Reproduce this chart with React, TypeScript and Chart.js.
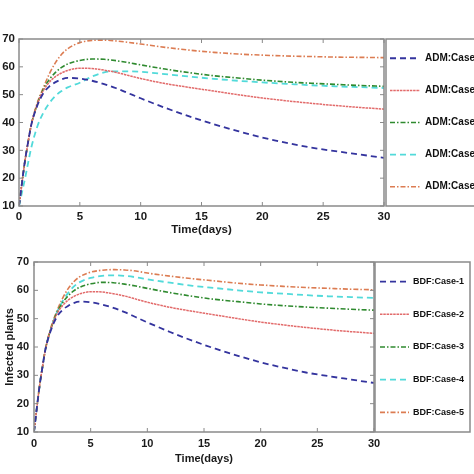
import React, { useEffect, useRef } from "react";
import { Chart, registerables } from "chart.js";

Chart.register(...registerables);

// Sample times (days)
const TIME = [0, 0.25, 0.5, 0.75, 1, 1.5, 2, 2.5, 3, 3.5, 4, 5, 6, 7, 8, 9, 10, 12, 14, 16, 18, 20, 22, 24, 26, 28, 30];

// Infected plants for each case
const CASE1 = [10, 18.5, 26.5, 33, 39, 46, 50.5, 53, 54.5, 55.5, 56, 55.8, 55, 53.8, 52.3, 50.5, 48.7, 45.3, 42.2, 39.4, 36.9, 34.6, 32.7, 31.0, 29.7, 28.5, 27.3];
const CASE2 = [10, 18.5, 26.5, 33, 39, 46.5, 51.5, 54.5, 56.5, 57.8, 58.7, 59.5, 59.4, 58.8, 58.0, 56.9, 55.8, 54.0, 52.6, 51.3, 50.0, 48.8, 47.8, 46.9, 46.1, 45.4, 44.8];
const CASE3 = [10, 18.5, 26.5, 33, 39, 46.5, 52, 55.5, 58, 59.8, 61, 62.3, 62.8, 62.7, 62.2, 61.5, 60.7, 59.2, 57.9, 56.8, 56.0, 55.2, 54.6, 54.1, 53.7, 53.3, 53.0];
const ADM_CASE4 = [10, 15, 20, 25.5, 30.8, 38.5, 43.5, 47, 49.6, 51.3, 52.6, 54.3, 56.5, 58.0, 58.4, 58.4, 58.2, 57.4, 56.5, 55.7, 55.0, 54.4, 53.9, 53.4, 53.0, 52.7, 52.4];
const ADM_CASE5 = [10, 18.5, 26.5, 33, 39, 47, 52.5, 57.5, 61.5, 64.5, 66.5, 68.7, 69.5, 69.6, 69.3, 68.8, 68.2, 67.0, 66.0, 65.2, 64.6, 64.2, 63.9, 63.7, 63.5, 63.4, 63.3];
const BDF_CASE4 = [10, 18.5, 26.5, 33, 39, 46.5, 52, 56, 59, 61.3, 62.8, 64.4, 65.1, 65.3, 65.1, 64.6, 63.9, 62.7, 61.6, 60.8, 60.0, 59.3, 58.8, 58.3, 57.9, 57.6, 57.3];
const BDF_CASE5 = [10, 18.5, 26.5, 33, 39, 47, 52.5, 57, 60.5, 63, 64.7, 66.4, 67.1, 67.3, 67.2, 66.8, 66.1, 65.0, 64.1, 63.3, 62.5, 61.9, 61.4, 61.0, 60.7, 60.4, 60.2];

const CASE_LABELS = ["Case-1", "Case-2", "Case-3", "Case-4", "Case-5"];
const X_TICKS = { min: 0, max: 30, step: 5 };
const Y_TICKS = { min: 10, max: 70, step: 10 };

const FONT = "'Liberation Sans', Arial, sans-serif";
const FRAME = "#8a8a8a";

const STYLES = [
  { color: "#34349e", dash: [6, 4], width: 1.8 },
  { color: "#e26a6a", dash: [2.5, 0.8], width: 1.5 },
  { color: "#2f8a2f", dash: [5, 2, 1.5, 2], width: 1.6 },
  { color: "#52dada", dash: [6, 4], width: 1.8 },
  { color: "#dc7c52", dash: [5, 2, 1.5, 2], width: 1.6 },
];

// Axes box with inward ticks, plus a boxed legend to the right of the plot
const framePlugin = {
  id: "frame",
  afterDraw(chart: any, _args: any, opts: any) {
    const { ctx, chartArea: a, scales } = chart;
    ctx.save();
    ctx.strokeStyle = FRAME;
    ctx.lineWidth = 1.5;
    ctx.setLineDash([]);
    ctx.strokeRect(a.left, a.top, a.right - a.left, a.bottom - a.top);
    ctx.beginPath();
    ctx.lineWidth = 1;
    scales.x.ticks.forEach((t: any) => {
      const px = scales.x.getPixelForValue(t.value);
      ctx.moveTo(px, a.bottom);
      ctx.lineTo(px, a.bottom - 4);
      ctx.moveTo(px, a.top);
      ctx.lineTo(px, a.top + 4);
    });
    scales.y.ticks.forEach((t: any) => {
      const py = scales.y.getPixelForValue(t.value);
      ctx.moveTo(a.left, py);
      ctx.lineTo(a.left + 4, py);
      ctx.moveTo(a.right, py);
      ctx.lineTo(a.right - 4, py);
    });
    ctx.stroke();

    // legend box
    const boxL = a.right + opts.gap;
    const boxT = a.top;
    const boxH = a.bottom - a.top;
    ctx.lineWidth = 1.5;
    ctx.strokeStyle = FRAME;
    ctx.strokeRect(boxL, boxT, opts.boxWidth, boxH);
    const n = chart.data.datasets.length;
    const spacing = boxH / (n + 0.2);
    ctx.font = `bold ${opts.fontSize}px ${FONT}`;
    ctx.textBaseline = "middle";
    ctx.textAlign = "left";
    chart.data.datasets.forEach((ds: any, i: number) => {
      const y = boxT + spacing * (i + 0.6);
      ctx.beginPath();
      ctx.strokeStyle = ds.borderColor;
      ctx.lineWidth = ds.borderWidth;
      ctx.setLineDash(ds.borderDash || []);
      ctx.moveTo(boxL + opts.sampleStart, y);
      ctx.lineTo(boxL + opts.sampleEnd, y);
      ctx.stroke();
      ctx.setLineDash([]);
      ctx.fillStyle = "#111";
      ctx.fillText(ds.label, boxL + opts.textStart, y);
    });
    ctx.restore();
  },
};

type PanelDef = {
  prefix: string;
  series: number[][];
  yWidth: number;
  xHeight: number;
  padding: { top: number; right: number; bottom: number; left: number };
  tickPadX: number;
  tickPadY: number;
  xTitlePad: number;
  fontSize: number;
  yTitle?: string;
  legend: { gap: number; boxWidth: number; sampleStart: number; sampleEnd: number; textStart: number; fontSize: number };
};

const TOP: PanelDef = {
  prefix: "ADM:",
  series: [CASE1, CASE2, CASE3, ADM_CASE4, ADM_CASE5],
  yWidth: 19,
  xHeight: 31,
  padding: { top: 39, right: 90, bottom: 0, left: 0 },
  tickPadX: 4,
  tickPadY: 4,
  xTitlePad: 0,
  fontSize: 11.5,
  legend: { gap: 2, boxWidth: 110, sampleStart: 4, sampleEnd: 34, textStart: 39, fontSize: 10 },
};

const BOTTOM: PanelDef = {
  prefix: "BDF:",
  series: [CASE1, CASE2, CASE3, BDF_CASE4, BDF_CASE5],
  yWidth: 34,
  xHeight: 42,
  padding: { top: 25, right: 100, bottom: 0, left: 0 },
  tickPadX: 5,
  tickPadY: 5,
  xTitlePad: 8,
  fontSize: 11,
  yTitle: "Infected plants",
  legend: { gap: 1, boxWidth: 95, sampleStart: 5, sampleEnd: 34, textStart: 38, fontSize: 9 },
};

function Panel({ def, top }: { def: PanelDef; top: number }) {
  const ref = useRef<HTMLCanvasElement | null>(null);
  useEffect(() => {
    if (!ref.current) return;
    const datasets = def.series.map((vals, i) => ({
      label: def.prefix + CASE_LABELS[i],
      data: TIME.map((t, k) => ({ x: t, y: vals[k] })),
      borderColor: STYLES[i].color,
      borderDash: STYLES[i].dash,
      borderWidth: STYLES[i].width,
      pointRadius: 0,
      fill: false,
      cubicInterpolationMode: "monotone" as const,
    }));
    const tickFont = { family: FONT, size: def.fontSize, weight: "bold" as const };
    const chart = new Chart(ref.current, {
      type: "line",
      data: { datasets },
      options: {
        animation: false,
        responsive: false,
        maintainAspectRatio: false,
        layout: { padding: def.padding },
        plugins: {
          legend: { display: false },
          tooltip: { enabled: false },
          // @ts-ignore
          frame: def.legend,
        },
        scales: {
          x: {
            type: "linear",
            min: X_TICKS.min,
            max: X_TICKS.max,
            grid: { display: false, drawTicks: false },
            border: { display: false },
            ticks: { stepSize: X_TICKS.step, color: "#1a1a1a", font: tickFont, padding: def.tickPadX, maxRotation: 0 },
            title: {
              display: true,
              text: "Time(days)",
              color: "#1a1a1a",
              font: tickFont,
              padding: { top: 0, bottom: def.xTitlePad },
            },
            afterFit: (s: any) => {
              s.height = def.xHeight;
            },
          },
          y: {
            type: "linear",
            min: Y_TICKS.min,
            max: Y_TICKS.max,
            grid: { display: false, drawTicks: false },
            border: { display: false },
            ticks: { stepSize: Y_TICKS.step, color: "#1a1a1a", font: tickFont, padding: def.tickPadY },
            title: {
              display: !!def.yTitle,
              text: def.yTitle || "",
              color: "#1a1a1a",
              font: tickFont,
              padding: { top: 3, bottom: 0 },
            },
            afterFit: (s: any) => {
              s.width = def.yWidth;
            },
          },
        },
      },
      plugins: [framePlugin],
    });
    return () => chart.destroy();
  }, [def]);
  return (
    <canvas
      ref={ref}
      width={474}
      height={237}
      style={{ position: "absolute", left: 0, top, width: 474, height: 237, display: "block" }}
    />
  );
}

export default function App() {
  return (
    <div style={{ position: "fixed", left: 0, top: 0, width: 474, height: 474, background: "#fff", overflow: "hidden" }}>
      <Panel def={TOP} top={0} />
      <Panel def={BOTTOM} top={237} />
    </div>
  );
}
